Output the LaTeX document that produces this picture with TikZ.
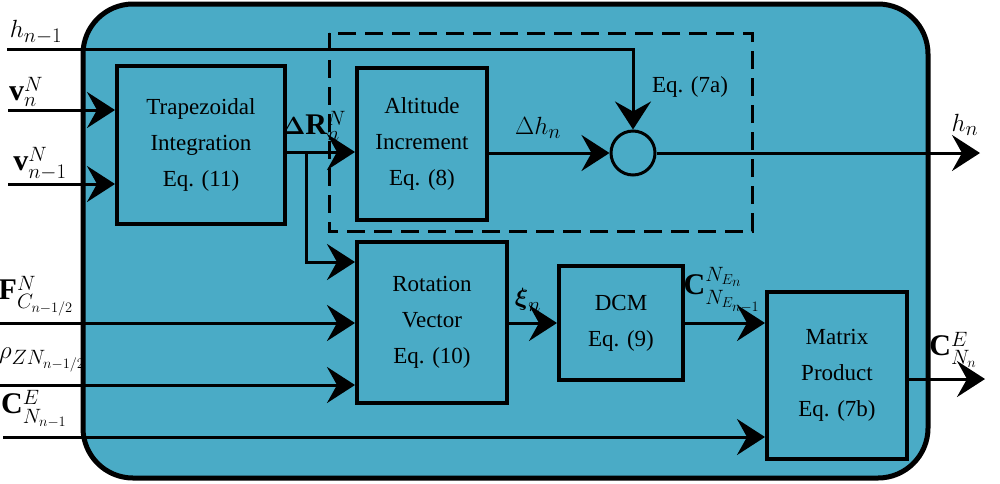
\documentclass[tikz,border=0pt]{standalone}
\usepackage{amsmath}
\usepackage{fontspec}
\setmainfont{Liberation Serif}
\usetikzlibrary{arrows.meta}
\definecolor{bg}{HTML}{4AABC6}
\begin{document}
\begin{tikzpicture}[x=1pt,y=-1pt,
  blk/.style={draw,line width=4pt,align=center,font=\fontsize{23}{36}\selectfont,inner sep=0},
  ln/.style={line width=3pt},
  ar/.style={ln,-{Stealth[length=28pt,width=36pt,inset=10pt]}},
  lab/.style={font=\fontsize{30}{34}\selectfont,inner sep=0}]
\useasboundingbox (0,0) rectangle (1000,483);
\draw[line width=5pt,fill=bg,rounded corners=50pt] (83,4) rectangle (928,478);
\node[blk,minimum width=168pt,minimum height=158pt] (trap) at (201,145) {Trapezoidal\\Integration\\Eq. (11)};
\node[blk,minimum width=130pt,minimum height=152pt] (alt) at (422,144) {Altitude\\Increment\\Eq. (8)};
\node[blk,minimum width=150pt,minimum height=161pt] (rot) at (432,322) {Rotation\\Vector\\Eq. (10)};
\node[blk,minimum width=124pt,minimum height=114pt] (dcm) at (621,323) {DCM\\Eq. (9)};
\node[blk,minimum width=140pt,minimum height=167pt] (mat) at (837,375) {Matrix\\Product\\Eq. (7b)};
\draw[line width=3pt,dash pattern=on 18pt off 9pt] (329,33) rectangle (752,231);
\node[draw,circle,line width=3pt,minimum size=44pt,inner sep=0] (sum) at (633,153) {};
\node[font=\fontsize{23}{26}\selectfont] (e7a) at (690,87) {Eq. (7a)};
% inputs
\coordinate (h0) at (7,49); \coordinate (v0) at (8,110); \coordinate (v1) at (8,184);
\coordinate (f0) at (0,323); \coordinate (r0) at (0,385); \coordinate (c0) at (3,437);
\coordinate (hn) at (980,153); \coordinate (cn) at (985,379); \coordinate (br) at (306,152);
\draw[ar] (h0) -| (sum.north);
\draw[ar] (v0) -- (v0 -| trap.west);
\draw[ar] (v1) -- (v1 -| trap.west);
\draw[ar] (br -| trap.east) -- (br -| alt.west);
\draw[ar] (br) |- (rot.west |- 0,262);
\draw[ar] (f0) -- (f0 -| rot.west);
\draw[ar] (r0) -- (r0 -| rot.west);
\draw[ar] (c0) -- (c0 -| mat.west);
\draw[ar] (alt.east |- sum) -- (sum.west);
\draw[ar] (sum.east) -- (hn);
\draw[ar] (rot.east |- dcm) -- (dcm.west);
\draw[ar] (dcm.east) -- (mat.west |- dcm);
\draw[ar] (mat.east |- cn) -- (cn);
% labels
\node[lab] (l1) at (36,32) {$h_{n-1}$};
\node[lab] (l2) at (26,92) {$\mathbf{v}_n^N$};
\node[lab] (l3) at (40,164) {$\mathbf{v}_{n-1}^N$};
\node[lab] (l4) at (36,296) {$\mathbf{F}_{C_{n-1/2}}^N$};
\node[lab] (l5) at (42,360) {$\rho_{ZN_{n-1/2}}$};
\node[lab] (l6) at (34,409) {$\mathbf{C}_{N_{n-1}}^E$};
\node[lab] (l7) at (314,126) {$\boldsymbol{\Delta}\mathbf{R}_n^N$};
\node[lab] (l8) at (538,128) {$\Delta h_n$};
\node[lab] (l9) at (965,125) {$h_n$};
\node[lab] (l10) at (528,300) {$\boldsymbol{\xi}_n$};
\node[lab] (l11) at (722,290) {$\mathbf{C}_{N_{E_{n-1}}}^{N_{E_n}}$};
\node[lab] (l12) at (953,350) {$\mathbf{C}_{N_n}^E$};
\end{tikzpicture}
\end{document}
